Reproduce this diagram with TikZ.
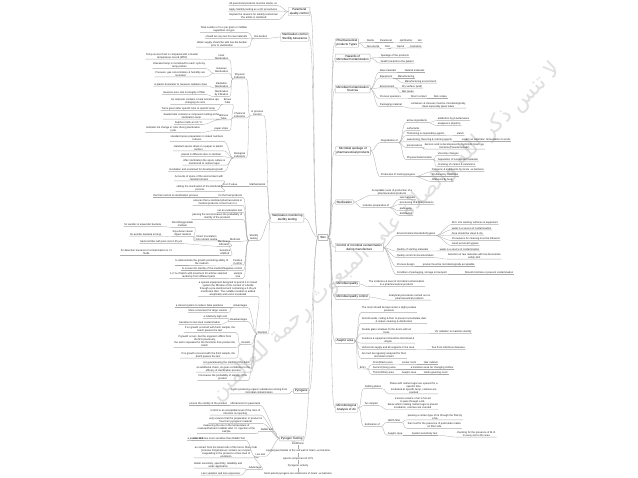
\documentclass[tikz,border=0pt]{standalone}
\usepackage{fontspec}
\setmainfont{Liberation Sans}
\newfontfamily\arabicfont[Script=Arabic]{DejaVu Sans}
\TeXXeTstate=1
\newcommand\tinyf{\fontsize{2.6}{3.0}\selectfont}
\newcommand\boxf{\fontsize{3}{3.6}\selectfont}
\tikzset{
  ln/.style={draw=gray!65, line width=0.3pt},
  tx/.style={font=\tinyf, inner xsep=0.6pt, inner ysep=0.2pt, align=center, text=black!85},
  rt/.style={tx, anchor=west},
  lt/.style={tx, anchor=east},
  mbox/.style={draw=gray!60, fill=white, line width=0.35pt, rounded corners=0.6pt, font=\boxf, inner xsep=1.4pt, inner ysep=1pt, align=center},
  cbox/.style={mbox, draw=gray!80, line width=0.45pt, inner sep=2pt},
  wm/.style={text=gray!24, font=\arabicfont\fontsize{22}{24}\selectfont, rotate=44},
}
\newcommand\Rc[4]{\node[rt] (#1) at (#3) {#4};
  \draw[ln] (#2) .. controls +(4,0) and +(-4,0) .. (#1.south west) -- (#1.south east);}
\newcommand\Lc[4]{\node[lt] (#1) at (#3) {#4};
  \draw[ln] (#2) .. controls +(-4,0) and +(4,0) .. (#1.south east) -- (#1.south west);}
\newcommand\Rb[3]{\node[mbox, anchor=west] (#1) at (#2) {#3};
  \draw[ln] (c.east) .. controls +(6,0) and +(-6,0) .. (#1.west);}
\newcommand\Lb[3]{\node[mbox, anchor=east] (#1) at (#2) {#3};
  \draw[ln] (c.west) .. controls +(-6,0) and +(6,0) .. (#1.east);}
\begin{document}
\begin{tikzpicture}[x=1pt,y=-1pt]
\useasboundingbox (0,0) rectangle (638,478);
\fill[white] (0,0) rectangle (638,478);
% watermark
\node[wm] (wmk) at (386,232) {\beginR لا تنس ذكر الله والصلاة على المبعوث رحمة للعالمين\endR};
% centre
\node[cbox] (c) at (323,237.5) {Ster};
% ---------------- right main branches
\Rb{pt}{335,43}{Pharmaceutical\\products Types}
\Rb{hz}{335,58}{Hazards of\\Microbial Contamination}
\Rb{src}{335,89}{Microbial Contamination\\Sources}
\Rb{spo}{335,151}{Microbial spoilage of\\pharmaceutical products}
\Rb{ster}{335,202}{Sterilization}
\Rb{ctl}{335,247.5}{Control of microbial contamination\\during manufacture}
\Rb{mq}{335,284}{Microbial quality}
\Rb{mqc}{335,297}{Microbial quality control}
\Rb{asa}{335,341}{Aseptic area}
\Rb{maa}{335,408}{Microbiological\\Analysis of Air}
% ---------------- left main branches
\Lb{pqc}{310,11.5}{Parenteral\\quality control}
\Lb{sca}{309,37}{Sterilization control\\Sterility Assurance}
\Lb{smt}{304,218}{Sterilization monitoring\\sterility testing}
\Lb{pyr}{309,391}{Pyrogens}
\Lb{pyt}{304,438.5}{Pyrogen Testing}
% ---------------- pharmaceutical types
\Rc{pt1}{pt.east}{366,41}{Sterile}
\Rc{pt2}{pt1.south east}{379,41}{Parenteral}
\Rc{pt3}{pt2.south east}{399,41}{ophthalmic}
\Rc{pt4}{pt3.south east}{417,41}{otic}
\Rc{pt5}{pt.east}{366,46.5}{Non-sterile}
\Rc{pt6}{pt5.south east}{384,46.5}{Oral}
\Rc{pt7}{pt6.south east}{396,46.5}{topical}
\Rc{pt8}{pt7.south east}{409,46.5}{cosmetics}
% hazards
\Rc{hz1}{hz.east}{380,56}{Spoilage of the products}
\Rc{hz2}{hz.east}{380,61.5}{health hazards to the patient}
% sources
\Rc{s1}{src.east}{379,71}{Raw materials}
\Rc{s1a}{s1.south east}{404,71}{Natural materials}
\Rc{s2}{src.east}{379,76.5}{Equipment}
\Rc{s2a}{s2.south east}{397,76.5}{Manufacturing}
\Rc{s2b}{s2.south east}{404,81.5}{Manufacturing environment}
\Rc{s3}{src.east}{379,86.5}{Environment}
\Rc{s3a}{s3.south east}{401,86.5}{Dry surface (wall)}
\Rc{s3b}{s3.south east}{401,91.5}{Wet areas}
\Rc{s4}{src.east}{379,97}{Process operators}
\Rc{s4a}{s4.south east}{410,97}{Direct contact}
\Rc{s4b}{s4a.south east}{433,97}{Skin scales}
\Rc{s5}{src.east}{379,105}{Packaging material}
\Rc{s5a}{s5.south east}{410,105}{containers \& closures must be microbiologically\\clean especially glass tubes}
% spoilage
\Rc{d}{spo.east}{380,141}{Degradation of}
\Rc{d1}{d.south east}{406,121}{active ingredients}
\Rc{d1a}{d1.south east}{437,119}{antibiotics by β-lactamases}
\Rc{d1b}{d1.south east}{437,124}{analgesics (Aspirin)}
\Rc{d2}{d.south east}{406,129}{surfactants}
\Rc{d3}{d.south east}{406,134}{Thickening \& suspending agents}
\Rc{d3a}{d3.south east}{456,134}{starch}
\Rc{d4}{d.south east}{406,139.5}{sweetening, flavoring \& coloring agents}
\Rc{d4a}{d4.south east}{461,139.5}{sugars as substrate: fermentation to acids}
\Rc{d5}{d.south east}{406,146}{preservatives}
\Rc{d5a}{d5.south east}{424,146}{benzoic acid is decomposed by hydrolytic Gram -ve\\bacteria (Pseudomonads)}
\Rc{d6}{d.south east}{406,158}{Physical Deterioration}
\Rc{d6a}{d6.south east}{437,154}{Viscosity changes}
\Rc{d6b}{d6.south east}{437,159.5}{Separation of suspended materials}
\Rc{d6c}{d6.south east}{437,165}{Cracking of creams \& emulsions}
\Rc{p}{spo.east}{380,175}{Production of toxins/pyrogens}
\Rc{p1}{p.south east}{431,170}{Pyrogens \& endotoxins by Gram -ve bacteria}
\Rc{p2}{p.south east}{431,175}{Produced by Clostridia}
\Rc{p3}{p.south east}{431,180}{Aflatoxins by fungi}
% sterilization
\Rc{st1}{ster.east}{371,192}{Acceptable route of production of a\\pharmaceutical products}
\Rc{st2}{ster.east}{362,206}{includes preparation of}
\Rc{st2a}{st2.south east}{399,198}{raw materials}
\Rc{st2b}{st2.south east}{399,203}{processing to a final products}
\Rc{st2c}{st2.south east}{399,209}{packaging}
\Rc{st2d}{st2.south east}{399,214}{distribution}
% control
\Rc{c1}{ctl.east}{396,234}{Environmental standards/hygiene}
\Rc{c1a}{c1.south east}{451,223}{M.O. into working surfaces \& equipment}
\Rc{c1b}{c1.south east}{451,228.5}{water is a source of contamination}
\Rc{c1c}{c1.south east}{451,233.5}{Area should be clean \& dry}
\Rc{c1d}{c1.south east}{451,239}{Procedures for cleaning must be followed}
\Rc{c1e}{c1.south east}{451,244}{Good personal hygiene}
\Rc{c2}{ctl.east}{396,249.5}{Quality of starting materials}
\Rc{c2a}{c2.south east}{439,249.5}{water is a source of contamination}
\Rc{c3}{ctl.east}{396,256}{Quality control \& documentation}
\Rc{c3a}{c3.south east}{447,256}{Selection of raw materials with low bio-burden\\safety limit}
\Rc{c4}{ctl.east}{396,265}{Process design}
\Rc{c4a}{c4.south east}{422,265}{product must be microbiologically acceptable}
\Rc{c5}{ctl.east}{396,273}{Condition of packaging, storage \& transport}
\Rc{c5a}{c5.south east}{464,273}{Should minimize or prevent contamination}
% quality
\Rc{mq1}{mq.east}{368,283.5}{The incidence \& level of microbial contamination\\in a pharmaceutical products}
\Rc{mqc1}{mqc.east}{388,297}{Analytical procedures carried out on\\pharmaceutical products}
% aseptic area
\Rc{a1}{asa.east}{361,309.5}{The room should be kept under a slight positive\\pressure}
\Rc{a2}{asa.east}{361,320.5}{Smooth walls, ceiling \& floor to prevent accumulate dust\\\& makes cleaning \& disinfection}
\Rc{a3}{asa.east}{361,331}{Double glass windows fix the doors with air\\locks}
\Rc{a3a}{a3.south east}{434,332}{UV radiation to maintain sterility}
\Rc{a4}{asa.east}{361,340}{Furniture \& equipment should be minimized \&\\simple}
\Rc{a5}{asa.east}{361,348}{Vertical air supply and all supports in the area}
\Rc{a5a}{a5.south east}{431,348}{free from infectious diseases}
\Rc{a6}{asa.east}{361,355.5}{Air must be regularly analyzed for their\\microbial content}
\Rc{a7}{asa.east}{359,367.5}{Entry}
\Rc{a7a}{a7.south east}{372,363}{First (Black) area}
\Rc{a7a1}{a7a.south east}{401,363}{Locker room}
\Rc{a7a2}{a7a1.south east}{423,363}{Hair cabinet}
\Rc{a7b}{a7.south east}{372,368}{Second (Grey) area}
\Rc{a7b1}{a7b.south east}{410,368}{a transition area for changing clothes}
\Rc{a7c}{a7.south east}{372,373}{Third (White) area}
\Rc{a7c1}{a7c.south east}{401,373}{Aseptic area}
\Rc{a7c2}{a7c1.south east}{423,373}{sterile gowning room}
% analysis of air
\Rc{m1}{maa.east}{364,387}{Settling plates}
\Rc{m1a}{m1.south east}{389,388}{Plates with nutrient agar are opened for a\\specific time\\Incubated at specific temp, colonies are\\counted}
\Rc{m2}{maa.east}{364,404}{Air sampler}
\Rc{m2a}{m2.south east}{387,403.5}{a known volume of air is forced\\to pass through a slit,\\below which rotating nutrient agar is placed\\incubation, colonies are counted}
\Rc{m3}{maa.east}{364,425}{Estimation of}
\Rc{m3a}{m3.south east}{387,421}{HEPA filter}
\Rc{m3a1}{m3a.south east}{407,417}{passing a certain type of oil through the filter by\\a fan}
\Rc{m3a2}{m3a.south east}{407,425.5}{then test for the presence of particulate matter\\on filter side}
\Rc{m3b}{m3.south east}{387,433.5}{Aseptic area}
\Rc{m3b1}{m3b.south east}{411,433.5}{System sensitivity test}
\Rc{m3b2}{m3b1.south east}{456,434}{checking for the presence of M.O.\\in every slot in the area}
% ---------------- parenteral QC
\Lc{q1}{pqc.west}{278,4}{All parenteral products must be sterile, so}
\Lc{q2}{pqc.west}{278,9.5}{Apply Sterility testing as a QC procedures}
\Lc{q3}{pqc.west}{279,16.5}{Explain the reasons for sterility test-known\\‘the article is sterilized’}
% sterility assurance
\Lc{b}{sca.west}{268,37}{Bio-burden}
\Lc{b1}{b.south west}{248,29.5}{Total number of m.o per gram or milliliter\\regardless its type}
\Lc{b2}{b.south west}{248,37}{should be very low for raw materials}
\Lc{b3}{b.south west}{248,44}{Water supply should be with low bio-burden\\prior to sterilization}
% in process control
\Lc{ip}{smt.west}{264,113}{In process\\Control}
\Lc{ph}{ip.south west}{246,76}{Physical\\indicators}
\Lc{ph1}{ph.south west}{229,57}{Heat\\Sterilization}
\Lc{ph1a}{ph1.south west}{199,56}{Temp record chart is compared with a master\\temperature record (MTR)}
\Lc{ph2}{ph.south west}{229,70.5}{Gaseous\\Sterilization}
\Lc{ph2a}{ph2.south west}{206,65.5}{Elevated temp is monitored for each cycle by\\temp probes}
\Lc{ph2b}{ph2.south west}{206,74}{Pressure, gas concentration \& humidity are\\recorded}
\Lc{ph3}{ph.south west}{229,85}{Radiation\\Sterilization}
\Lc{ph3a}{ph3.south west}{208,84.5}{A plastic dosimeter to measure radiation dose}
\Lc{ph4}{ph.south west}{229,93.5}{Sterilization\\by Filtration}
\Lc{ph4a}{ph4.south west}{206,93}{measure pore size \& integrity of filter}
\Lc{ch}{ip.south west}{246,115}{Chemical\\indicators}
\Lc{ch1}{ch.south west}{232,101.5}{Brown\\Tube}
\Lc{ch1a}{ch1.south west}{220,101.5}{An ampoule contains a heat sensitive dye\\changing its color}
\Lc{ch1b}{ch1.south west}{216,109}{Turns green after specific time at specific temp}
\Lc{ch2}{ch.south west}{229,117}{Witness\\Tube}
\Lc{ch2a}{ch2.south west}{220,116}{Sealed tube contains a compound melting at the\\sterilization temp}
\Lc{ch2b}{ch2.south west}{203,123}{Sulphur melts at 115 °C}
\Lc{ch3}{ch.south west}{229,129}{paper strips}
\Lc{ch3a}{ch3.south west}{201,129.5}{Indicator ink change in color during sterilization\\cycle}
\Lc{bi}{ip.south west}{246,155}{Biological\\indicators}
\Lc{bi1}{bi.south west}{224,138.5}{standard spore preparation in stated numbers\\cultures}
\Lc{bi2}{bi.south west}{224,148}{standard spores dried on a paper or plastic\\carriers}
\Lc{bi3}{bi.south west}{222,155}{placed in different sites in sterilizer}
\Lc{bi4}{bi.south west}{226,162}{After sterilization the spore culture is\\transferred to nutrient agar}
\Lc{bi5}{bi.south west}{224,170}{incubation and examined for developed growth}
% mathematical
\Lc{ma}{smt.west}{266,185}{Mathematical}
\Lc{dz}{ma.south west}{238,185}{D or Z value}
\Lc{dz1}{dz.south west}{224,178}{Accounts of spore of the environment with\\resistant strains}
\Lc{dz2}{dz.south west}{224,188.5}{setting the inactivation of the sterilization\\process}
% sterility testing
\Lc{stt}{smt.west}{259,237.5}{Sterility\\testing}
\Lc{t1}{stt.south west}{243,196}{for the final products}
\Lc{t1a}{t1.south west}{199,196}{the final control on sterilization process}
\Lc{t2}{stt.south west}{243,202.5}{ensures that a sterilized pharmaceutical or\\medical products is free from m.o}
\Lc{t3}{stt.south west}{243,211}{not an evaluation test}
\Lc{t4}{stt.south west}{243,216.5}{passing the test increases the probability of\\sterility of the products}
\Lc{me}{stt.south west}{241,240}{Methods}
\Lc{me1}{me.south west}{218,238}{Direct inoculation\\into nutrient media}
\Lc{me1a}{me1.south west}{194,224.5}{Fluid thioglycollate\\medium}
\Lc{me1a1}{me1a.south west}{162,225}{for aerobic \& anaerobic bacteria}
\Lc{me1b}{me1.south west}{194,233.5}{Soya bean casein\\digest medium}
\Lc{me1b1}{me1b.south west}{162,234.5}{for aerobic bacteria \& fungi}
\Lc{me2}{me.south west}{231,243.5}{Membrane\\Filtration}
\Lc{me2a}{me2.south west}{183,242}{bacteria filter with pore size 0.45 μm}
\Lc{me3}{me.south west}{231,252.5}{Sensitive\\Method}
\Lc{me3a}{me3.south west}{173,252.5}{for detection low level of contamination in I.V\\fluids}
\Lc{pc}{stt.south west}{243,262}{Positive\\Control}
\Lc{pc1}{pc.south west}{229,262}{to demonstrate the growth promoting ability of\\the medium}
\Lc{nc}{stt.south west}{243,269}{Negative control}
\Lc{nc1}{nc.south west}{224,269}{to ensure the sterility of the medium}
\Lc{ss}{stt.south west}{243,275.5}{sample\\size}
\Lc{ss1}{ss.south west}{228,275.5}{1-2 \% of batch with maximum 20 articles selected\\randomly from different parts}
% steritest
\Lc{sx}{smt.west}{268,332.5}{Steritest}
\Lc{sx1}{sx.south west}{258,289}{a special equipment designed to permit it in closed\\system the filtration of the content of a bottle\\through a pre-sterilized unit containing a 0.45 μm\\membrane filter. The suitable medium is added\\aseptically and unit is incubated}
\Lc{av}{sx.south west}{248,306}{Advantages}
\Lc{av1}{av.south west}{224,306}{a closed system to reduce false positives}
\Lc{av2}{av.south west}{228,311}{More convenient for large volume}
\Lc{dv}{sx.south west}{248,320}{Disadvantages}
\Lc{dv1}{dv.south west}{228,317}{a relatively high cost}
\Lc{dv2}{dv.south west}{221,323}{Sensitive to low level contamination}
\Lc{rs}{sx.south west}{251,343}{Results}
\Lc{rs1}{rs.south west}{236,329.5}{If no growth occurred with fresh sample, the\\batch passes the test}
\Lc{rs2}{rs.south west}{236,341.5}{If growth occurs, but the organism differs from\\the first previously,\\the test is repeated for the third time then passes the\\batch}
\Lc{rs3}{rs.south west}{236,355}{If no growth occurred with the third sample, the\\batch passes the test}
\Lc{l1}{sx.south west}{251,362.5}{not guaranteeing the sterility of the batch}
\Lc{l2}{sx.south west}{251,369}{an additional check, its gives confidence to the\\efficacy of sterilization process}
\Lc{l3}{sx.south west}{248,377.5}{It increases the probability of sterility of the\\product}
% pyrogens
\Lc{py1}{pyr.west}{288,391}{Fever producing organic substances arising from\\microbial contamination}
% pyrogen testing
\Lc{y1}{pyt.west}{261,404}{official tests for parenteral}
\Lc{y1a}{y1.south west}{228,404}{ensure the sterility of the product}
\Lc{y2}{pyt.west}{261,412}{to limit to an acceptable level of the risks of\\infection on injecting}
\Lc{y3}{pyt.west}{263,420.5}{only ensures that the preparation or product is\\free from pyrogenic material}
\Lc{rb}{pyt.west}{274,430}{Rabbit test}
\Lc{rb1}{rb.south west}{256,429}{measuring the rise in the temperature of\\unanaesthetized 3 rabbits after I.V. injection of the\\sample}
\Lc{lt}{pyt.west}{266,455}{LAL test}
\Lc{lt0}{lt.south west}{246,439}{LAL 10 times more sensitive than Rabbit Test}
\Lc{lt0a}{lt0.south west}{204,439}{a precise test}
\Lc{lt1}{lt.south west}{258,452}{an extract from the blood cells of the horse Shoe Crab\\(Limulus Polyphemus) contains an enzyme\\coagulating in the presence of low level of\\endotoxin}
\Lc{ad}{lt.south west}{262,468}{Advantage}
\Lc{ad1}{ad.south west}{243,465}{Better sensitivity, specificity, reliability and\\wider application}
\Lc{ad2}{ad.south west}{241,473.5}{Less variation and less expensive}
% chain under pyrogen testing
\node[tx] (k1) at (298,444) {Endotoxin};
\node[tx] (k2) at (298,451) {Lipopolysaccharide of the cell wall of Gram -ve bacteria};
\node[tx] (k3) at (298,458.5) {Lipid A component of LPS};
\node[tx] (k4) at (298,466) {Pyrogenic activity};
\node[tx] (k5) at (298,473.5) {Most potent pyrogens are endotoxins of Gram -ve bacteria};
\draw[ln] (pyt.south) -- (k1.north);
\draw[ln] (k1.south) -- (k2.north);
\draw[ln] (k2.south) -- (k3.north);
\draw[ln] (k3.south) -- (k4.north);
\draw[ln] (k4.south) -- (k5.north);
\end{tikzpicture}
\end{document}
